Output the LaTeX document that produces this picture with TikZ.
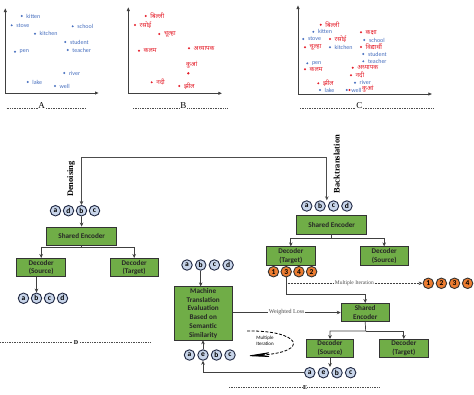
\documentclass[tikz,border=0pt]{standalone}
\usepackage{fontspec}
\setmainfont{Liberation Serif}
\setsansfont{Carlito}
\newfontfamily\hindi[Script=Devanagari]{Noto Sans}
\usetikzlibrary{arrows.meta, positioning, calc}
\definecolor{encgreen}{RGB}{112,173,71}
\definecolor{tokfill}{RGB}{200,213,234}
\definecolor{tokline}{RGB}{32,40,66}
\definecolor{numfill}{RGB}{237,125,49}
\definecolor{wblue}{RGB}{70,110,190}
\definecolor{wred}{RGB}{228,28,40}
\tikzset{
  enc/.style    = {draw=black!80, semithick, fill=encgreen, align=center, text=black!85,
                   font=\sffamily\bfseries\fontsize{7.2}{8.8}\selectfont, inner sep=1pt},
  tok/.style    = {circle, draw=tokline, line width=0.9pt, fill=tokfill, minimum size=10.5pt,
                   inner sep=0pt, font=\sffamily\bfseries\fontsize{7.5}{8}\selectfont},
  num/.style    = {tok, fill=numfill, draw=black!80},
  sig/.style    = {-{Stealth[length=4pt, width=3.6pt]}, line width=0.7pt, draw=black!75},
  dsig/.style   = {{Stealth[length=4pt, width=3.6pt]}-{Stealth[length=4pt, width=3.6pt]},
                   line width=0.7pt, draw=black!70},
  itsig/.style  = {sig, dash pattern=on 0.6pt off 0.9pt},
  lab/.style    = {font=\fontsize{6}{7}\selectfont, text=black!70, fill=white, inner sep=0.5pt},
  vlab/.style   = {font=\bfseries\fontsize{8.5}{9}\selectfont, rotate=90, inner sep=0pt},
  wen/.style    = {font=\sffamily\fontsize{6}{7}\selectfont, text=wblue, anchor=west, inner sep=0.5pt},
  whi/.style    = {font=\hindi\fontsize{6.3}{7}\selectfont, text=wred, anchor=west, inner sep=0.5pt},
  ax/.style     = {{Latex[length=4pt, width=3.5pt]}-{Latex[length=4pt, width=3.5pt]},
                   line width=1pt, draw=black!75},
  sepline/.style= {black!70, line width=0.5pt, dash pattern=on 0.5pt off 1.2pt},
  panlab/.style = {font=\fontsize{9}{9}\selectfont, fill=white, inner sep=0.6pt, anchor=base},
  sublab/.style = {font=\bfseries\fontsize{6}{6}\selectfont, fill=white, inner sep=0.4pt},
  curv/.style   = {line width=0.8pt, dash pattern=on 3pt off 1.6pt,
                   -{Stealth[length=30pt, width=6pt, inset=14pt]}},
}

\begin{document}
\begin{tikzpicture}[x=1pt, y=-1pt]
  \useasboundingbox (0,0) rectangle (474,394);

  % panel A
  \draw[ax] (5.3,8) -- (5.3,93) -- (99,93);
  \foreach \x/\y/\w [count=\i] in {21.7/16/kitten, 11.7/25.3/stove, 35/33.7/kitchen,
      72.7/26.3/school, 65.3/42/student, 67.7/50/teacher, 15/51.7/pen,
      64.3/73/river, 27.7/82/lake, 55/86/well}
    {\fill[wblue] (\x,\y) circle (1.1);
     \node[wen] (a\i) at (\x+4,\y) {\w};}
  \draw[sepline] (6.7,108) -- (85,108);
  \node[panlab] (alab) at (41.7,108.6) {A};

  % panel B
  \draw[ax] (128.3,7) -- (128.3,93.3) -- (222.3,93.3);
  \foreach \x/\y/\w [count=\i] in {145.7/16/बिल्ली, 135/25/रसोई, 159.3/34/चूल्हा,
      139/50.7/कलम, 189/48.3/अध्यापक, 151.7/82.3/नदी, 179.3/86/झील}
    {\fill[wred] (\x,\y) circle (1.1);
     \node[whi] (b\i) at (\x+4,\y) {\w};}
  \fill[wred] (188.3,73.3) circle (1.3);
  \node[whi, anchor=center] (bkua) at (191.7,65) {कुआं};
  \draw[sepline] (133,108) -- (227,108);
  \node[panlab] (blab) at (183.3,108.6) {B};

  % panel C
  \draw[ax] (298,5) -- (298,94) -- (432.3,94);
  \foreach \x/\y/\w [count=\i] in {313.3/31.8/kitten, 364.3/40/school, 303.3/39/stove,
      330/47.3/kitchen, 363.3/54/student, 363.3/61.3/teacher, 307.3/63.3/pen,
      355/82.7/river, 320/90/lake, 346.7/90/well}
    {\fill[wblue] (\x,\y) circle (1.1);
     \node[wen] (c\i) at (\x+4,\y) {\w};}
  \foreach \x/\y/\w [count=\i] in {320.7/24.8/बिल्ली, 361/32.3/कक्षा, 330/39/रसोई,
      305/47.3/चूल्हा, 361/47/विद्यार्थी, 305/69.3/कलम, 352.7/67.7/अध्यापक,
      351/75.3/नदी, 318.3/83.3/झील}
    {\fill[wred] (\x,\y) circle (1.1);
     \node[whi] (h\i) at (\x+4,\y) {\w};}
  \fill[wred] (349.5,90) circle (1.1);
  \node[whi] (hkua) at (361.5,89) {कुआं};
  \draw[sepline] (300,108) -- (433,108);
  \node[panlab] (clab) at (359.3,108.6) {C};

  % denoising
  \node[tok] (da) at (55.5,210.7) {a};
  \node[tok] (dd) at (68.5,210.7) {d};
  \node[tok] (db) at (81.5,210.7) {b};
  \node[tok] (dc) at (94.5,210.7) {c};
  \node[enc, minimum width=70pt, minimum height=18.3pt] (denc) at (81.7,236) {Shared Encoder};
  \node[enc, minimum width=49pt, minimum height=18.4pt] (dsrc) at (41.2,267.5) {Decoder\\(Source)};
  \node[enc, minimum width=48.3pt, minimum height=18.4pt] (dtgt) at (134.2,267.5) {Decoder\\(Target)};
  \node[tok] (oda) at (23.5,298.3) {a};
  \node[tok] (odb) at (36.5,298.3) {b};
  \node[tok] (odc) at (49.5,298.3) {c};
  \node[tok] (odd) at (62.5,298.3) {d};
  \coordinate (dsplit) at (81.7,247.3);

  % backtranslation
  \node[tok] (ba) at (306.7,206) {a};
  \node[tok] (bb) at (320.1,206) {b};
  \node[tok] (bc) at (333.5,206) {c};
  \node[tok] (bd) at (346.9,206) {d};
  \node[enc, minimum width=70pt, minimum height=18.3pt] (benc) at (331.7,224.8) {Shared Encoder};
  \node[enc, minimum width=48.3pt, minimum height=18.3pt] (btgt) at (290.8,255.8) {Decoder\\(Target)};
  \node[enc, minimum width=48.3pt, minimum height=18.3pt] (bsrc) at (384.2,255.8) {Decoder\\(Source)};
  \node[num] (n1) at (273.5,271.7) {1};
  \node[num] (n3) at (286.2,271.7) {3};
  \node[num] (n4) at (298.9,271.7) {4};
  \node[num] (n2) at (311.6,271.7) {2};
  \node[num] (m1) at (428.3,283.3) {1};
  \node[num] (m2) at (441.4,283.3) {2};
  \node[num] (m3) at (454.5,283.3) {3};
  \node[num] (m4) at (467.6,283.3) {4};
  \coordinate (bsplit) at (331.7,238.3);
  \coordinate (iy) at (0,294.3);
  \coordinate (tl) at (81.5,157.7);
  \coordinate (bt) at ($(bb.north)!0.5!(bc.north)$);

  % evaluation loop
  \node[tok] (ma) at (187,265) {a};
  \node[tok] (mb) at (200.7,265) {b};
  \node[tok] (mc) at (214.4,265) {c};
  \node[tok] (md) at (228.1,265) {d};
  \node[enc, minimum width=58.3pt, minimum height=53.3pt] (mte) at (203.2,313.3)
    {Machine\\Translation\\Evaluation\\Based on\\Semantic\\Similarity};
  \node[tok] (la) at (189.5,355) {a};
  \node[tok] (le) at (203,355) {e};
  \node[tok] (lb) at (216.5,355) {b};
  \node[tok] (lc) at (230,355) {c};
  \node[enc, minimum width=48.3pt, minimum height=18.4pt] (senc) at (365.2,312.5) {Shared\\Encoder};
  \node[enc, minimum width=46.6pt, minimum height=18pt] (ssrc) at (330,348.3) {Decoder\\(Source)};
  \node[enc, minimum width=49pt, minimum height=18pt] (stgt) at (403.8,348.3) {Decoder\\(Target)};
  \node[tok] (oa) at (309.8,372.7) {a};
  \node[tok] (oe) at (323.4,372.7) {e};
  \node[tok] (ob) at (337,372.7) {b};
  \node[tok] (oc) at (350.6,372.7) {c};
  \coordinate (ssplit) at (365.7,331);
  \node[font=\sffamily\fontsize{5}{5.8}\selectfont, align=center] (itl) at (265,340.7) {Multiple\\Iteration};

  \draw[dsig] (db.north) -- (tl) -| (bt);
  \node[vlab] (dnl) at (71,179) {Denoising};
  \node[vlab] (btl) at (336.7,164) {Backtranslation};

  \draw[sig] (db) -- (denc);
  \draw[sig] (denc.south) -- (dsplit) -| (dsrc.north);
  \draw[sig] (dsplit) -| (dtgt.north);
  \draw[sig] (odb |- dsrc.south) -- (odb);

  \draw[sig] (benc.south) -- (bsplit) -| (btgt.north);
  \draw[sig] (bsplit) -| (bsrc.north);
  \draw[itsig] (n3.south |- m1) -- node[lab, font=\fontsize{5.5}{6}\selectfont] {Multiple Iteration} (m1.west);
  \draw[sig] (n3.south) -- (n3.south |- iy) -| (senc.north);

  \draw[sig] (mb) -- (mb |- mte.north);
  \draw[sig] (le) -- (le |- mte.south);
  \draw[sig] (mte.east |- senc.west) -- node[lab] {Weighted Loss} (senc.west);
  \draw[sig] (senc.south) -- (ssplit) -| (ssrc.north);
  \draw[sig] (ssplit) -| (stgt.north);
  \draw[sig] (ssrc.south) -- (ssrc.south |- oe.north);
  \draw[sig] (oa.west) -| (le.south);
  \draw[curv] (247,331) .. controls (300,330) and (312,352) .. (246,356);

  \draw[sepline] (0,342.7) -- (150.7,342.7);
  \node[sublab] (dlab) at (76,342.7) {D};
  \draw[sepline] (229,387.5) -- (380,387.5);
  \node[sublab] (elab) at (305,387.5) {E};
\end{tikzpicture}
\end{document}
